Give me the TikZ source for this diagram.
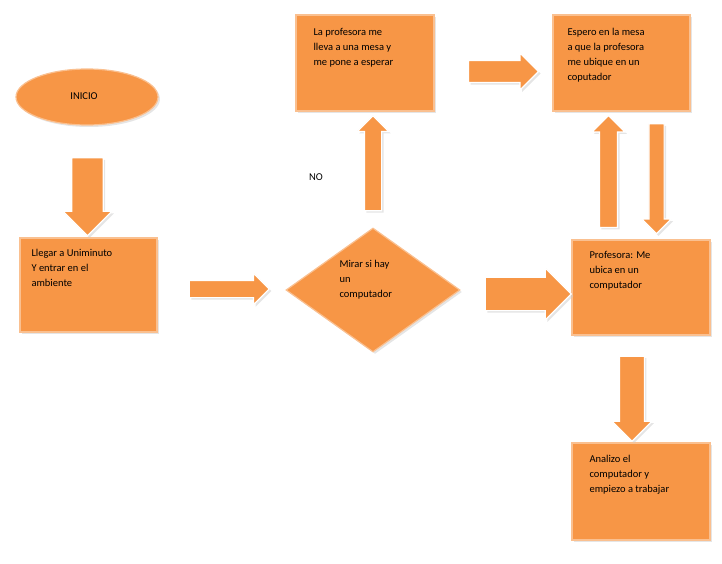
\documentclass[tikz,border=0pt]{standalone}
\usepackage{fontspec}
\setmainfont{Carlito}
\usetikzlibrary{shapes.geometric,shapes.arrows,shadows}
\definecolor{org}{HTML}{F79646}
\begin{document}
\begin{tikzpicture}[x=1pt,y=-1pt,font=\fontsize{10.5}{15}\selectfont,
  bx/.style={draw=org!60!white,line width=1.2pt,fill=org,drop shadow={shadow xshift=2pt,shadow yshift=-2pt,fill=gray!40}},
  arr/.style={single arrow,draw=white,line width=1.2pt,fill=org,inner xsep=0pt,drop shadow={shadow xshift=2pt,shadow yshift=-2pt,fill=gray!40},single arrow head indent=0pt}]
\useasboundingbox (0,0) rectangle (722,564);
\node[bx,ellipse,minimum width=142,minimum height=56] (inicio) at (87,97) {};
\node at (84,96) {INICIO};
% boxes
\node[bx,rectangle,minimum width=137,minimum height=94] (llegar) at (88.5,285) {};
\node[anchor=north west,align=left] at (28,246) {Llegar a Uniminuto\\Y entrar en el\\ambiente};
\node[bx,diamond,minimum width=174,minimum height=124,inner sep=0pt,aspect=1.4] (mirar) at (373,290) {};
\node[anchor=north west,align=left] at (336,257) {Mirar si hay\\un\\computador};
\node[bx,rectangle,minimum width=138,minimum height=96] (lleva) at (365,63) {};
\node[anchor=north west,align=left] at (310,25) {La profesora me\\lleva a una mesa y\\me pone a esperar};
\node[bx,rectangle,minimum width=137,minimum height=96] (espero) at (621.5,63) {};
\node[anchor=north west,align=left] at (564,25) {Espero en la mesa\\a que la profesora\\me ubique en un\\coputador};
\node[bx,rectangle,minimum width=138,minimum height=95] (ubica) at (641,287.5) {};
\node[anchor=north west,align=left] at (586,248) {Profesora: Me\\ubica en un\\computador};
\node[bx,rectangle,minimum width=138,minimum height=97] (analizo) at (641,491.5) {};
\node[anchor=north west,align=left] at (586,452) {Analizo el\\computador y\\empiezo a trabajar};
\node (no) at (316,177) {NO};
% arrows
\node[arr,minimum height=78,minimum width=49,inner ysep=12pt,rotate=-90] (a1) at (87.5,189) {};
\node[arr,minimum height=80,minimum width=28,inner ysep=8pt] (a2) at (225,289) {};
\node[arr,minimum height=95,minimum width=30,inner ysep=8pt,rotate=90] (a3) at (373,167.5) {};
\node[arr,minimum height=70,minimum width=37,inner ysep=10pt] (a4) at (498,71.5) {};
\node[arr,minimum height=86,minimum width=52,inner ysep=12pt] (a5) at (520,294) {};
\node[arr,minimum height=110,minimum width=27,inner ysep=7pt,rotate=-90] (a6) at (656.5,175) {};
\node[arr,minimum height=112,minimum width=33,inner ysep=8pt,rotate=90] (a7) at (608.5,176) {};
\node[arr,minimum height=85,minimum width=40,inner ysep=11pt,rotate=-90] (a8) at (632,392.5) {};
\end{tikzpicture}
\end{document}
